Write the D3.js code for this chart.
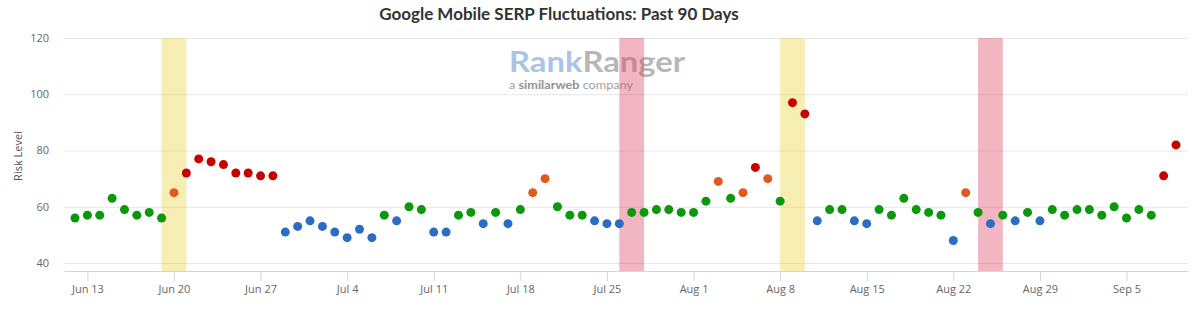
<!DOCTYPE html>
<html>
<head>
<meta charset="utf-8">
<title>Google Mobile SERP Fluctuations</title>
<script src="https://cdn.jsdelivr.net/npm/d3@7"></script>
<style>
	body { margin: 0; background: #fff; }
	#graph text { font-family: "Open Sans", sans-serif; }
</style>
</head>
<body>
<div id="graph"></div>
<script>
//chart data - one value per day starting Jun 12
var startDay = "2022-06-12";
var riskValues = [
	56, 57, 57, 63, 59, 57, 58, 56, 65, 72, 77, 76, 75, 72, 72, 71, 71, 51, 53,
	55, 53, 51, 49, 52, 49, 57, 55, 60, 59, 51, 51, 57, 58, 54, 58, 54, 59, 65, 70, 60, 57, 57, 55, 54, 54, 58, 58, 59, 59, 58,
	58, 62, 69, 63, 65, 74, 70, 62, 97, 93, 55, 59, 59, 55, 54, 59, 57, 63, 59, 58, 57, 48, 65, 58, 54, 57, 55, 58, 55, 59, 57,
	59, 59, 57, 60, 56, 59, 57, 71, 82
];
var bandStarts = ["2022-06-19", "2022-07-26", "2022-08-08", "2022-08-24"];
var bandEnds = ["2022-06-21", "2022-07-28", "2022-08-10", "2022-08-26"];
var bandKinds = ["update", "volatility", "update", "volatility"];
var xTickDays = ["2022-06-13", "2022-06-20", "2022-06-27", "2022-07-04", "2022-07-11", "2022-07-18", "2022-07-25",
	"2022-08-01", "2022-08-08", "2022-08-15", "2022-08-22", "2022-08-29", "2022-09-05"];
var yTicks = [40, 60, 80, 100, 120];
var levelBreaks = [56, 65, 71]; //low / normal / high / very high
var levelColors = ["#2a6dc2", "#0b980b", "#de5a1e", "#c90000"];

(function(){
"use strict";

var width = 1202;
var height = 335;
var plot = {left: 64, right: 1188, top: 38, bottom: 271};
var parse = d3.timeParse("%Y-%m-%d");

var first = parse(startDay);
var data = riskValues.map(function(v, i){
	return {date: d3.timeDay.offset(first, i), value: v};
});

//points sit inside the plot with some padding
var x = d3.scaleTime()
	.domain([data[0].date, data[data.length - 1].date])
	.range([75, 1176]);
var xAxisScale = x.copy()
	.domain([x.invert(plot.left), x.invert(plot.right)])
	.range([plot.left, plot.right]);
var y = d3.scaleLinear()
	.domain([40, 120])
	.range([263, plot.top]);
var color = d3.scaleThreshold()
	.domain(levelBreaks)
	.range(levelColors);

var svg = d3.select("#graph")
	.append("svg")
		.attr("width", width)
		.attr("height", height);

//grid
svg.append("g")
	.selectAll("line")
	.data(yTicks)
	.enter()
	.append("line")
		.attr("x1", plot.left)
		.attr("x2", plot.right)
		.attr("y1", function(d){ return y(d) + 0.5; })
		.attr("y2", function(d){ return y(d) + 0.5; })
		.attr("stroke", "#e6e6e6");

//watermark logo
svg.append("text")
	.attr("x", 509)
	.attr("y", 72)
	.style("font-family", "Lato, sans-serif")
	.style("font-size", "28px")
	.style("font-weight", "bold")
	.attr("textLength", 176)
	.attr("lengthAdjust", "spacingAndGlyphs")
	.html('<tspan fill="#a9c4e7">Rank</tspan><tspan fill="#b7b7b7">Ranger</tspan>');
svg.append("text")
	.attr("x", 509)
	.attr("y", 89)
	.style("font-family", "Lato, sans-serif")
	.style("font-size", "11.5px")
	.attr("textLength", 124)
	.attr("lengthAdjust", "spacingAndGlyphs")
	.html('<tspan fill="#a0a0a0">a </tspan><tspan fill="#909090" font-weight="bold">similarweb</tspan><tspan fill="#a0a0a0"> company</tspan>');

//highlight bands
svg.append("g")
	.selectAll("rect")
	.data(bandStarts)
	.enter()
	.append("rect")
		.attr("x", function(d){ return x(parse(d)); })
		.attr("width", function(d, i){ return x(parse(bandEnds[i])) - x(parse(d)); })
		.attr("y", plot.top)
		.attr("height", plot.bottom - plot.top)
		.attr("fill", function(d, i){
			return bandKinds[i] == "update" ? "rgba(236,212,64,0.4)" : "rgba(222,64,96,0.38)";
		});

//x axis
var xAxis = d3.axisBottom()
	.scale(xAxisScale)
	.tickValues(xTickDays.map(parse))
	.tickFormat(d3.timeFormat("%b %-d"))
	.tickSize(10)
	.tickSizeOuter(0);
var gx = svg.append("g")
	.attr("transform", "translate(0," + plot.bottom + ")")
	.call(xAxis);
gx.select(".domain").attr("stroke", "#ccd6eb");
gx.selectAll(".tick line").attr("stroke", "#ccd6eb");
gx.selectAll(".tick text")
	.attr("y", 14)
	.attr("dy", "0.71em")
	.style("font-size", "11px")
	.attr("fill", "#666");

//y axis labels
svg.append("g")
	.selectAll("text")
	.data(yTicks)
	.enter()
	.append("text")
		.attr("x", 49)
		.attr("y", function(d){ return y(d); })
		.attr("dy", "0.35em")
		.attr("text-anchor", "end")
		.style("font-size", "11px")
		.attr("fill", "#666")
		.text(function(d){ return d; });

svg.append("text")
	.attr("transform", "translate(22,156) rotate(-90)")
	.attr("text-anchor", "middle")
	.style("font-size", "11px")
	.attr("fill", "#555")
	.text("Risk Level");

//points
svg.append("g")
	.selectAll("circle")
	.data(data)
	.enter()
	.append("circle")
		.attr("cx", function(d){ return x(d.date); })
		.attr("cy", function(d){ return y(d.value); })
		.attr("r", 4.5)
		.attr("fill", function(d){ return color(d.value); });

//title
svg.append("text")
	.attr("x", 559)
	.attr("y", 20)
	.attr("text-anchor", "middle")
	.style("font-family", "Lato, sans-serif")
	.style("font-size", "17px")
	.style("font-weight", "bold")
	.attr("fill", "#333")
	.text("Google Mobile SERP Fluctuations: Past 90 Days");

console.log(data.length);
})();
</script>
</body>
</html>
